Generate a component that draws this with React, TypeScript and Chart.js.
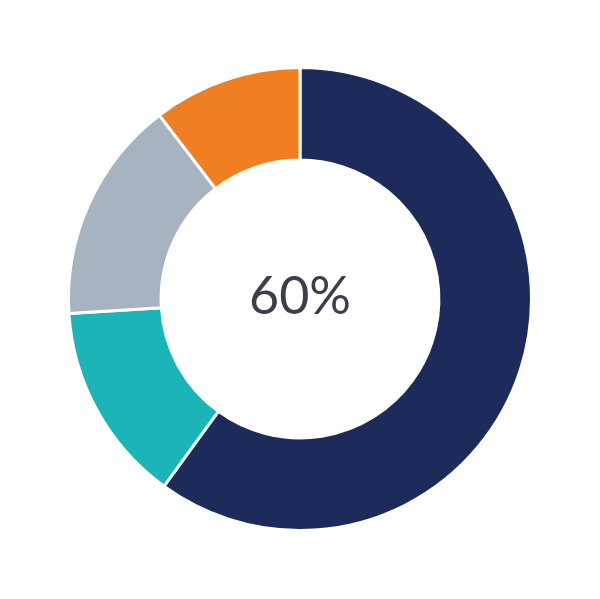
import React, { useEffect, useRef } from 'react';
import Chart from 'chart.js/auto';

const labels = ['A', 'B', 'C', 'D'];
const values = [60, 14, 15.6, 10.4];
const colors = ['#1c2b5a', '#1bb5b8', '#a8b3c2', '#f07f22'];
const centerLabel = '60%';

const centerText = {
  id: 'centerText',
  afterDraw(chart: Chart) {
    const { ctx, chartArea } = chart;
    const cx = (chartArea.left + chartArea.right) / 2;
    const cy = (chartArea.top + chartArea.bottom) / 2;
    ctx.save();
    ctx.font = '400 52px Lato';
    ctx.fillStyle = '#3b3f4b';
    ctx.textAlign = 'center';
    ctx.textBaseline = 'alphabetic';
    ctx.fillText(centerLabel, cx, cy + 15);
    ctx.restore();
  },
};

const App: React.FC = () => {
  const canvasRef = useRef<HTMLCanvasElement | null>(null);
  const chartRef = useRef<Chart | null>(null);

  useEffect(() => {
    document.body.style.margin = '0';
    const ctx = canvasRef.current?.getContext('2d');
    if (ctx) {
      chartRef.current = new Chart(ctx, {
        type: 'doughnut',
        data: {
          labels,
          datasets: [
            {
              data: values,
              backgroundColor: colors,
              borderColor: '#ffffff',
              borderWidth: 3,
            },
          ],
        },
        options: {
          animation: false,
          responsive: true,
          maintainAspectRatio: false,
          cutout: '60%',
          layout: {
            padding: { top: 66, bottom: 67, left: 67, right: 67 },
          },
          plugins: {
            legend: { display: false },
            tooltip: { enabled: false },
          },
        },
        plugins: [centerText],
      });
    }
    return () => {
      if (chartRef.current) chartRef.current.destroy();
    };
  }, []);

  return (
    <div style={{ width: 600, height: 599, position: 'relative' }}>
      <canvas ref={canvasRef}></canvas>
    </div>
  );
};

export default App;
